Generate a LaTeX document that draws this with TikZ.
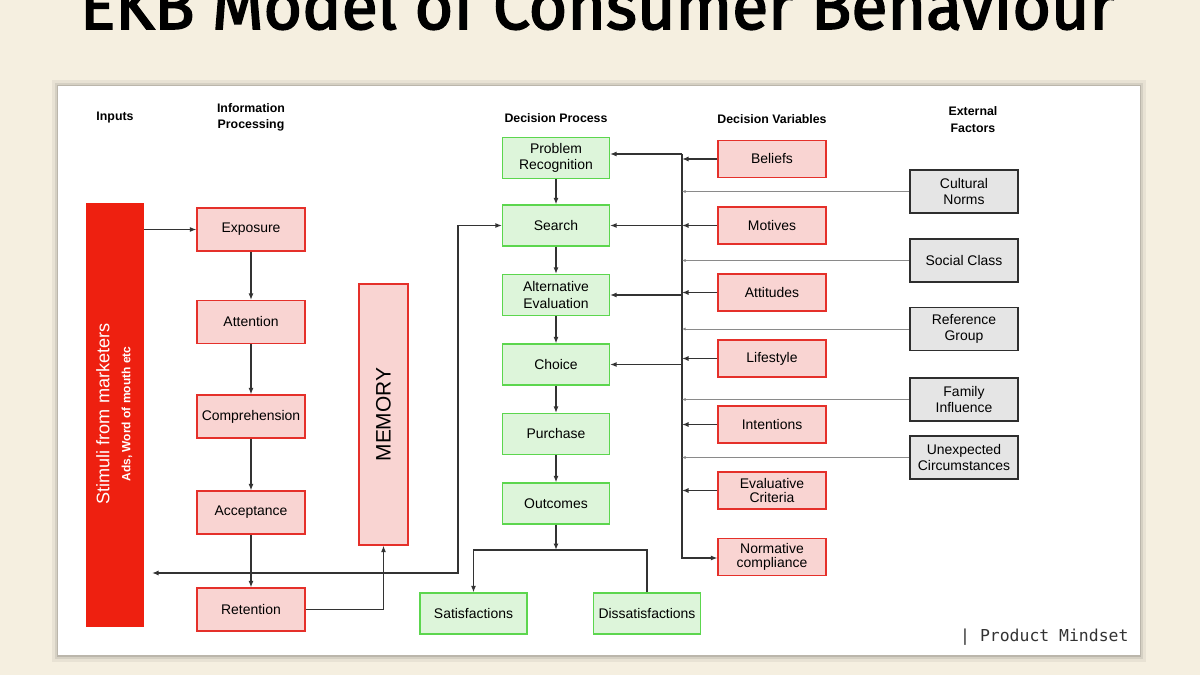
\documentclass[tikz,border=0pt]{standalone}
\usepackage{fontspec}
\usepackage{graphicx}
\setmainfont{Liberation Sans}
\newfontfamily\titlefont[FakeBold=2.5]{Fira Sans}
\newfontfamily\brandfont{DejaVu Sans Mono}
\usetikzlibrary{arrows.meta}
\definecolor{pagebg}{HTML}{F5EFE0}
\definecolor{procfill}{HTML}{F9D4D2}
\definecolor{procline}{HTML}{E5302A}
\definecolor{stepfill}{HTML}{DDF5DA}
\definecolor{stepline}{HTML}{5CD64E}
\definecolor{extfill}{HTML}{E5E5E5}
\definecolor{extline}{HTML}{2E2E2E}
\definecolor{stimred}{HTML}{EE2010}
\definecolor{linkgray}{HTML}{333333}
\definecolor{thingray}{HTML}{8A8A8A}
\tikzset{
  basebox/.style={draw, line width=1.2bp, align=center, inner sep=0pt,
                  font=\fontsize{14}{16.5}\selectfont},
  procbox/.style={basebox, fill=procfill, draw=procline, minimum width=108bp, minimum height=43bp},
  stepbox/.style={basebox, fill=stepfill, draw=stepline, minimum width=107bp, minimum height=41bp},
  varbox/.style={basebox, fill=procfill, draw=procline, minimum width=108bp, minimum height=37bp,
                 font=\fontsize{14}{14}\selectfont},
  extbox/.style={basebox, fill=extfill, draw=extline, line width=1.8bp,
                 minimum width=108bp, minimum height=43bp},
  header/.style={font=\bfseries\fontsize{12.4}{16.5}\selectfont, align=center},
  link/.style={-{Latex[length=6.5bp,width=5bp]}, line width=1.3bp, draw=linkgray},
  thinlink/.style={-{Latex[length=3.5bp,width=3bp]}, line width=0.8bp, draw=thingray},
}
\begin{document}
\begin{tikzpicture}[x=1bp, y=-1bp]
    \useasboundingbox (0,0) rectangle (1200,675);
    \fill[pagebg] (0,0) rectangle (1200,675);
    \fill[black, opacity=0.05] (52,80) rectangle (1146,662);
    \fill[black, opacity=0.08] (55,83) rectangle (1143,659);
    \fill[black, opacity=0.12] (57,85) rectangle (1141,657);
    \fill[white] (58,86) rectangle (1140,655);
    \node[anchor=base, font=\titlefont\fontsize{50}{60}\selectfont] (title) at (597.5,29)
      {\resizebox{1035bp}{!}{EKB Model of Consumer Behaviour}};

    \node[header] (hinputs) at (115,118) {Inputs};
    \node[header] (hinfo) at (251,117.5) {Information\\Processing};
    \node[header] (hdecision) at (556,118) {Decision Process};
    \node[header] (hvariables) at (772,119) {Decision Variables};
    \node[header] (hexternal) at (973,119.5) {External\\Factors};

    \node[fill=stimred, minimum width=58bp, minimum height=424bp, inner sep=0pt] (stimuli) at (115,415) {};
    \node[rotate=90, text=white, font=\fontsize{18.2}{20}\selectfont] (stimulitext) at (103,414) {Stimuli from marketers};
    \node[rotate=90, text=white, font=\bfseries\fontsize{12}{14}\selectfont] (stimulisub) at (127,414) {Ads, Word of mouth etc};

    \node[procbox] (exposure) at (251,229.5) {Exposure};
    \node[procbox] (attention) at (251,322) {Attention};
    \node[procbox] (comprehension) at (251,416.5) {Comprehension};
    \node[procbox] (acceptance) at (251,512.5) {Acceptance};
    \node[procbox] (retention) at (251,609.5) {Retention};
    \node[procbox, minimum width=49bp, minimum height=261bp] (memory) at (383.5,414.5) {};
    \node[rotate=90, font=\fontsize{21}{24}\selectfont] (memorytext) at (383.5,414.5) {MEMORY};

    \node[stepbox] (problem) at (556,158) {Problem\\Recognition};
    \node[stepbox] (search) at (556,225.5) {Search};
    \node[stepbox] (alternative) at (556,295) {Alternative\\Evaluation};
    \node[stepbox] (choice) at (556,364.5) {Choice};
    \node[stepbox] (purchase) at (556,434) {Purchase};
    \node[stepbox] (outcomes) at (556,503.5) {Outcomes};
    \node[stepbox] (satisfaction) at (473.5,613.5) {Satisfactions};
    \node[stepbox] (dissatisfaction) at (647,613.5) {Dissatisfactions};

    \node[varbox] (beliefs) at (772,159) {Beliefs};
    \node[varbox] (motives) at (772,225.5) {Motives};
    \node[varbox] (attitudes) at (772,292.5) {Attitudes};
    \node[varbox] (lifestyle) at (772,358.5) {Lifestyle};
    \node[varbox] (intentions) at (772,424.5) {Intentions};
    \node[varbox] (evaluative) at (772,490.5) {Evaluative\\Criteria};
    \node[varbox] (normative) at (772,557) {Normative\\compliance};

    \node[extbox] (cultural) at (964,191.5) {Cultural\\Norms};
    \node[extbox] (social) at (964,260.5) {Social Class};
    \node[extbox] (reference) at (964,329) {Reference\\Group};
    \node[extbox] (family) at (964,399.5) {Family\\Influence};
    \node[extbox] (unexpected) at (964,457.5) {Unexpected\\Circumstances};

    \node[anchor=east, text=linkgray, font=\brandfont\fontsize{16.5}{18}\selectfont] (brand) at (1132,637) {| Product Mindset};

    \coordinate (bustop) at (682,154);
    \coordinate (busbot) at (682,558);
    \coordinate (split) at (556,550);
    \coordinate (fbleft) at (152,573);
    \coordinate (fbcorner) at (458,573);

    \draw[link] (stimuli.east |- exposure) -- (exposure);
    \foreach \a/\b in {exposure/attention, attention/comprehension, comprehension/acceptance, acceptance/retention}
      \draw[link] (\a) -- (\b);
    \draw[link] (retention.east) -| (memory.south);
    \draw[link, {Latex[length=6.5bp,width=5bp]}-{Latex[length=6.5bp,width=5bp]}] (fbleft) -- (fbcorner) |- (search.west);

    \foreach \a/\b in {problem/search, search/alternative, alternative/choice, choice/purchase, purchase/outcomes}
      \draw[link] (\a) -- (\b);
    \draw[link] (outcomes) -- (split);
    \draw[link] (dissatisfaction.north) |- (split) -| (satisfaction.north);

    \draw[link] (bustop) -- (problem.east |- bustop);
    \draw[link] (bustop) -- (busbot) -- (normative.west |- busbot);
    \foreach \v in {beliefs, motives, attitudes, lifestyle, intentions, evaluative}
      \draw[link] (\v.west) -- (\v.west -| bustop);
    \foreach \s in {search, alternative, choice}
      \draw[link] (\s.east -| bustop) -- (\s.east);
    \foreach \e in {cultural, social, reference, family, unexpected}
      \draw[thinlink] (\e.west) -- (\e.west -| bustop);
\end{tikzpicture}
\end{document}
